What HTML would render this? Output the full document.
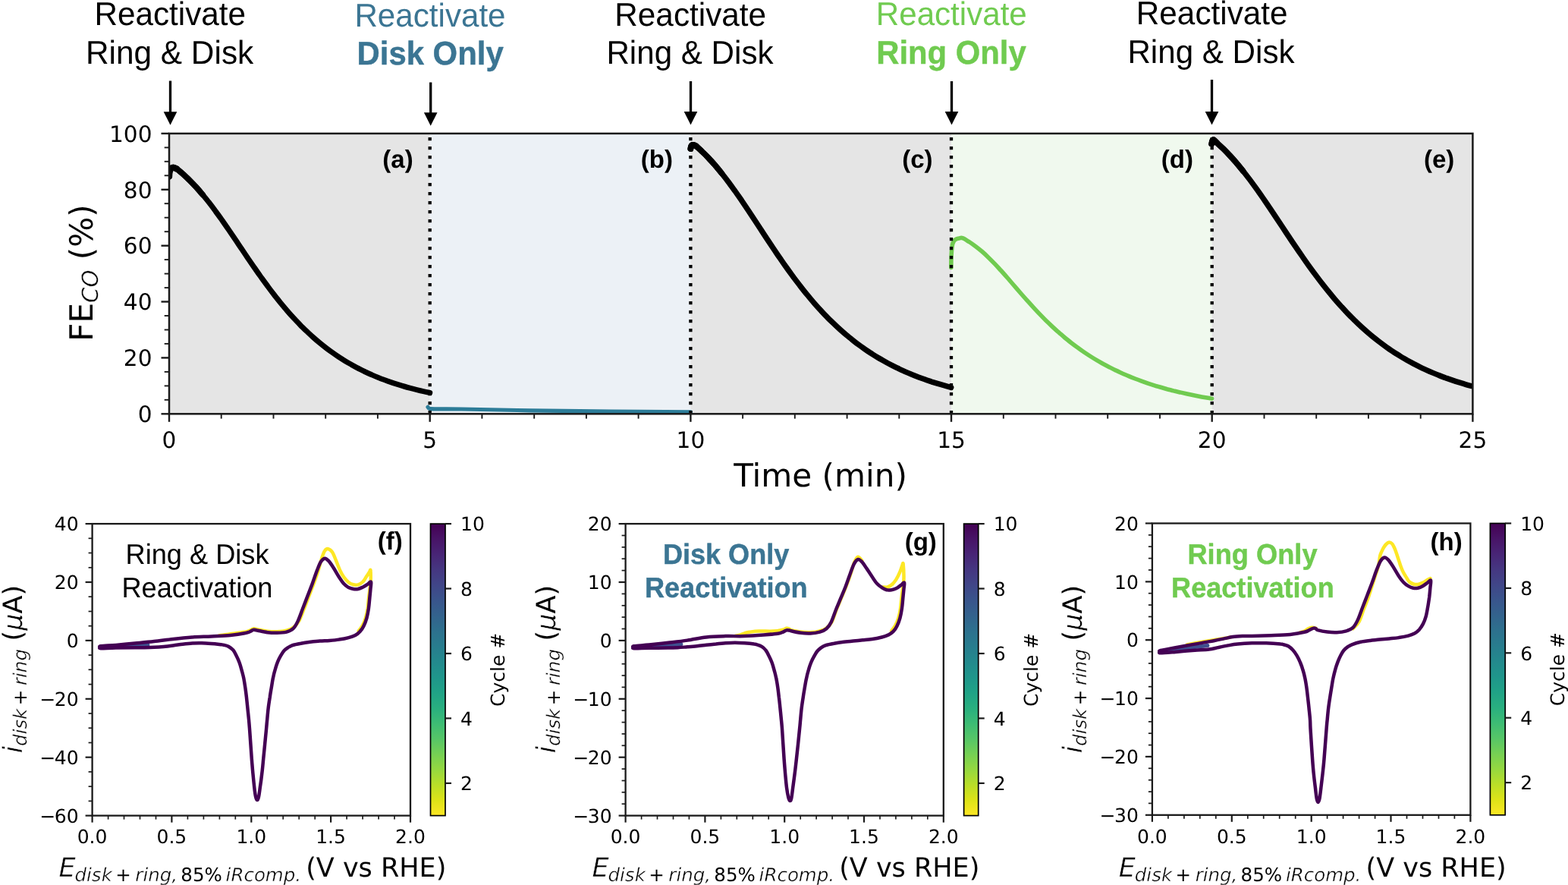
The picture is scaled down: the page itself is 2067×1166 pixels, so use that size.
<!DOCTYPE html>
<html lang="en">
<head>
<meta charset="utf-8">
<title>Reactivation of ring and disk: FE(CO) vs time and cyclic voltammograms</title>
<style>
html,body{margin:0;padding:0;background:#fff;}
body{width:2067px;height:1166px;overflow:hidden;}
svg{display:block;}
text{white-space:pre;text-rendering:geometricPrecision;}
.it{font-style:italic;stroke:#fff;stroke-width:0.45px;stroke-linejoin:round;}
.up{font-style:normal;stroke:none;}
.b{font-weight:bold;stroke-width:0.45px;stroke-linejoin:round;}
</style>
</head>
<body>
<svg width="2067" height="1166" viewBox="0 0 2067 1166">
<defs><filter id="soft" x="0" y="0" width="100%" height="100%" filterUnits="objectBoundingBox" color-interpolation-filters="sRGB"><feGaussianBlur stdDeviation="0.45"/></filter></defs>
<g filter="url(#soft)">
<rect width="2067" height="1166" fill="#fff"/>
<g id="top-plot">
<clipPath id="cliptop"><rect x="223" y="175.9" width="1718.4" height="369.4"/></clipPath>
<rect x="223" y="175.9" width="343.7" height="369.4" fill="#e5e5e5"/>
<rect x="566.7" y="175.9" width="343.7" height="369.4" fill="#ecf1f6"/>
<rect x="910.4" y="175.9" width="343.7" height="369.4" fill="#e5e5e5"/>
<rect x="1254" y="175.9" width="343.7" height="369.4" fill="#f0f9ee"/>
<rect x="1597.7" y="175.9" width="343.7" height="369.4" fill="#e5e5e5"/>
<path d="M564 536.3C564.3 536.7 564.6 537.9 566.1 538.3C567.6 538.7 565.8 538.7 572.9 538.8C580 539 587.8 538.7 608.7 539C629.6 539.4 665.4 540.3 698.2 540.8C731 541.3 770.3 541.7 805.6 542.1C841 542.4 892.9 542.7 910.4 542.8" fill="none" stroke="#2c7c98" stroke-width="5.2" stroke-linejoin="round" stroke-linecap="round" clip-path="url(#cliptop)"/>
<path d="M1253.8 352.5C1253.8 349.9 1253.9 341.8 1254.1 337C1254.3 332.2 1254.7 327.2 1255.2 324C1255.7 320.8 1256.4 319.3 1257.3 317.8C1258.2 316.3 1259.3 315.6 1260.5 315C1261.7 314.4 1263.1 314.1 1264.5 313.9C1265.9 313.7 1266.8 312.9 1269 313.7C1271.2 314.5 1274.6 316.8 1277.4 318.5C1280.2 320.3 1283 322.3 1285.9 324.4C1288.7 326.5 1291.5 328.7 1294.3 331.2C1297.1 333.6 1299.9 336.2 1302.7 338.9C1305.5 341.6 1308.3 344.4 1311.1 347.4C1313.9 350.3 1316.7 353.4 1319.6 356.5C1322.4 359.6 1325.2 362.8 1328 366C1330.8 369.2 1333.6 372.5 1336.4 375.8C1339.2 379 1342 382.3 1344.8 385.5C1347.6 388.7 1350.4 391.9 1353.3 395.1C1356.1 398.2 1358.9 401.4 1361.7 404.4C1364.5 407.5 1367.3 410.5 1370.1 413.4C1372.9 416.3 1375.7 419.2 1378.5 422C1381.3 424.7 1384.2 427.4 1387 430.1C1389.8 432.7 1392.6 435.3 1395.4 437.7C1398.2 440.2 1401 442.6 1403.8 445C1406.6 447.3 1409.4 449.5 1412.2 451.7C1415 453.9 1417.9 456 1420.7 458C1423.5 460.1 1426.3 462.1 1429.1 464C1431.9 465.9 1434.7 467.7 1437.5 469.5C1440.3 471.3 1443.1 473 1445.9 474.6C1448.7 476.3 1451.6 477.9 1454.4 479.5C1457.2 481 1460 482.5 1462.8 483.9C1465.6 485.4 1468.4 486.8 1471.2 488.1C1474 489.5 1476.8 490.7 1479.6 492C1482.4 493.2 1485.3 494.5 1488.1 495.6C1490.9 496.8 1493.7 497.9 1496.5 499C1499.3 500.1 1502.1 501.1 1504.9 502.1C1507.7 503.1 1510.5 504.1 1513.3 505.1C1516.2 506 1519 506.9 1521.8 507.8C1524.6 508.7 1527.4 509.5 1530.2 510.3C1533 511.1 1535.8 511.9 1538.6 512.7C1541.4 513.4 1544.2 514.2 1547 514.9C1549.9 515.6 1552.7 516.3 1555.5 516.9C1558.3 517.6 1561.1 518.2 1563.9 518.8C1566.7 519.4 1569.5 520 1572.3 520.6C1575.1 521.2 1577.9 521.7 1580.7 522.2C1583.6 522.8 1586.4 523.3 1589.2 523.8C1592 524.3 1596.2 525 1597.6 525.2" fill="none" stroke="#70cb50" stroke-width="5.6" stroke-linejoin="round" stroke-linecap="round" clip-path="url(#cliptop)"/>
<line x1="566.7" y1="545.3" x2="566.7" y2="175.9" stroke="#000" stroke-width="4.3" stroke-dasharray="4.4 7.6" stroke-dashoffset="0"/>
<line x1="910.4" y1="545.3" x2="910.4" y2="175.9" stroke="#000" stroke-width="4.3" stroke-dasharray="4.4 7.6" stroke-dashoffset="0"/>
<line x1="1254" y1="545.3" x2="1254" y2="175.9" stroke="#000" stroke-width="4.3" stroke-dasharray="4.4 7.6" stroke-dashoffset="0"/>
<line x1="1597.7" y1="545.3" x2="1597.7" y2="175.9" stroke="#000" stroke-width="4.3" stroke-dasharray="4.4 7.6" stroke-dashoffset="0"/>
<path d="M223 232.5C223.1 231.5 223.1 228.2 223.5 226.5C223.9 224.8 224.5 223.3 225.3 222.3C226.1 221.3 227.2 220.6 228.5 220.6C229.8 220.6 230.8 221 233 222.5C235.2 224 238.7 227.1 241.6 229.6C244.4 232.2 247.3 234.9 250.1 237.7C253 240.6 255.8 243.5 258.7 246.7C261.5 249.8 264.4 253.1 267.2 256.5C270.1 259.9 272.9 263.5 275.8 267.1C278.6 270.8 281.5 274.6 284.3 278.5C287.2 282.3 290 286.3 292.9 290.4C295.7 294.4 298.6 298.6 301.5 302.7C304.3 306.9 307.2 311.1 310 315.3C312.9 319.5 315.7 323.8 318.6 328C321.4 332.2 324.3 336.5 327.1 340.7C330 344.8 332.8 349 335.7 353.1C338.5 357.2 341.4 361.3 344.2 365.3C347.1 369.3 349.9 373.2 352.8 377C355.6 380.9 358.5 384.7 361.3 388.3C364.2 392 367.1 395.6 369.9 399.1C372.8 402.6 375.6 406 378.5 409.3C381.3 412.6 384.2 415.8 387 418.9C389.9 422 392.7 425 395.6 427.9C398.4 430.8 401.3 433.6 404.1 436.3C407 439 409.8 441.7 412.7 444.2C415.5 446.7 418.4 449.2 421.2 451.5C424.1 453.9 426.9 456.1 429.8 458.3C432.6 460.5 435.5 462.6 438.4 464.6C441.2 466.6 444.1 468.6 446.9 470.5C449.8 472.3 452.6 474.1 455.5 475.9C458.3 477.6 461.2 479.2 464 480.8C466.9 482.4 469.7 484 472.6 485.5C475.4 486.9 478.3 488.3 481.1 489.7C484 491.1 486.8 492.4 489.7 493.6C492.5 494.9 495.4 496.1 498.2 497.2C501.1 498.4 504 499.5 506.8 500.5C509.7 501.6 512.5 502.6 515.4 503.6C518.2 504.6 521.1 505.5 523.9 506.4C526.8 507.3 529.6 508.2 532.5 509C535.3 509.9 538.2 510.7 541 511.4C543.9 512.2 546.7 512.9 549.6 513.6C552.4 514.3 555.3 515 558.1 515.6C561 516.3 565.3 517.2 566.7 517.5" fill="none" stroke="#000" stroke-width="7.1" stroke-linejoin="round" stroke-linecap="round" clip-path="url(#cliptop)"/>
<path d="M910.4 196C910.5 195.4 910.8 193.3 911.2 192.5C911.6 191.7 912 191.1 913 191C914 190.9 914.9 190.5 917 192C919.1 193.5 922.8 197 925.6 199.8C928.5 202.5 931.4 205.4 934.3 208.5C937.2 211.5 940 214.7 942.9 218C945.8 221.4 948.7 224.9 951.5 228.5C954.4 232.1 957.3 235.8 960.2 239.7C963.1 243.5 965.9 247.5 968.8 251.5C971.7 255.6 974.6 259.7 977.5 263.9C980.3 268.1 983.2 272.4 986.1 276.8C989 281.1 991.8 285.5 994.7 289.8C997.6 294.2 1000.5 298.6 1003.4 303C1006.2 307.4 1009.1 311.8 1012 316.1C1014.9 320.5 1017.8 324.8 1020.6 329.1C1023.5 333.3 1026.4 337.6 1029.3 341.7C1032.1 345.9 1035 350 1037.9 354C1040.8 358.1 1043.7 362 1046.5 365.9C1049.4 369.7 1052.3 373.5 1055.2 377.2C1058.1 380.9 1060.9 384.5 1063.8 388C1066.7 391.6 1069.6 395 1072.4 398.3C1075.3 401.6 1078.2 404.9 1081.1 408C1084 411.1 1086.8 414.2 1089.7 417.1C1092.6 420.1 1095.5 422.9 1098.4 425.7C1101.2 428.5 1104.1 431.2 1107 433.8C1109.9 436.3 1112.7 438.9 1115.6 441.3C1118.5 443.7 1121.4 446 1124.3 448.3C1127.1 450.6 1130 452.8 1132.9 454.9C1135.8 457 1138.7 459 1141.5 461C1144.4 463 1147.3 464.8 1150.2 466.7C1153 468.5 1155.9 470.3 1158.8 472C1161.7 473.7 1164.6 475.3 1167.4 476.9C1170.3 478.5 1173.2 480 1176.1 481.5C1179 483 1181.8 484.4 1184.7 485.7C1187.6 487.1 1190.5 488.4 1193.3 489.7C1196.2 491 1199.1 492.2 1202 493.4C1204.9 494.5 1207.7 495.7 1210.6 496.8C1213.5 497.9 1216.4 498.9 1219.3 499.9C1222.1 501 1225 501.9 1227.9 502.9C1230.8 503.8 1233.6 504.7 1236.5 505.6C1239.4 506.5 1242.3 507.3 1245.2 508.1C1248 508.9 1252.4 510.1 1253.8 510.5" fill="none" stroke="#000" stroke-width="7.3" stroke-linejoin="round" stroke-linecap="round" clip-path="url(#cliptop)"/>
<path d="M1597.3 189.5C1597.5 188.8 1597.8 186.4 1598.2 185.5C1598.7 184.6 1599 183.9 1600 184.3C1601 184.7 1601.9 186.1 1604 188C1606.1 190 1609.8 193.3 1612.7 196.1C1615.5 198.9 1618.4 201.9 1621.3 205C1624.2 208.1 1627.1 211.4 1630 214.7C1632.8 218.1 1635.7 221.6 1638.6 225.2C1641.5 228.8 1644.4 232.6 1647.3 236.4C1650.1 240.2 1653 244.2 1655.9 248.2C1658.8 252.2 1661.7 256.3 1664.6 260.5C1667.4 264.6 1670.3 268.9 1673.2 273.1C1676.1 277.4 1679 281.7 1681.9 286.1C1684.7 290.4 1687.6 294.7 1690.5 299.1C1693.4 303.4 1696.3 307.8 1699.2 312.1C1702 316.4 1704.9 320.7 1707.8 324.9C1710.7 329.2 1713.6 333.4 1716.5 337.5C1719.4 341.7 1722.2 345.8 1725.1 349.8C1728 353.8 1730.9 357.8 1733.8 361.6C1736.7 365.5 1739.5 369.3 1742.4 373C1745.3 376.7 1748.2 380.4 1751.1 383.9C1754 387.5 1756.8 390.9 1759.7 394.3C1762.6 397.6 1765.5 400.9 1768.4 404.1C1771.3 407.3 1774.1 410.4 1777 413.4C1779.9 416.4 1782.8 419.3 1785.7 422.1C1788.6 424.9 1791.4 427.7 1794.3 430.3C1797.2 433 1800.1 435.5 1803 438C1805.9 440.5 1808.7 442.9 1811.6 445.2C1814.5 447.5 1817.4 449.8 1820.3 451.9C1823.2 454.1 1826 456.2 1828.9 458.2C1831.8 460.2 1834.7 462.2 1837.6 464.1C1840.5 465.9 1843.4 467.8 1846.2 469.5C1849.1 471.3 1852 472.9 1854.9 474.6C1857.8 476.2 1860.7 477.8 1863.5 479.3C1866.4 480.8 1869.3 482.3 1872.2 483.7C1875.1 485.1 1878 486.4 1880.8 487.7C1883.7 489.1 1886.6 490.3 1889.5 491.5C1892.4 492.7 1895.3 493.9 1898.1 495C1901 496.2 1903.9 497.2 1906.8 498.3C1909.7 499.3 1912.6 500.3 1915.4 501.3C1918.3 502.3 1921.2 503.2 1924.1 504.1C1927 505 1929.9 505.9 1932.7 506.7C1935.6 507.6 1940 508.7 1941.4 509.1" fill="none" stroke="#000" stroke-width="7.3" stroke-linejoin="round" stroke-linecap="round" clip-path="url(#cliptop)"/>
<path d="M223 232.5C223.1 231.5 223.1 228.2 223.5 226.5C223.9 224.8 224.5 223.3 225.3 222.3C226.1 221.3 227.2 220.6 228.5 220.6C229.8 220.6 232.2 222.2 233 222.5" fill="none" stroke="#000" stroke-width="8.4" stroke-linejoin="round" stroke-linecap="round" clip-path="url(#cliptop)"/>
<path d="M910.4 196C910.5 195.4 910.8 193.3 911.2 192.5C911.6 191.7 912 191.1 913 191C914 190.9 916.3 191.8 917 192" fill="none" stroke="#000" stroke-width="8.0" stroke-linejoin="round" stroke-linecap="round" clip-path="url(#cliptop)"/>
<path d="M1597.3 189.5C1597.5 188.8 1597.8 186.4 1598.2 185.5C1598.7 184.6 1599 183.9 1600 184.3C1601 184.7 1603.3 187.4 1604 188" fill="none" stroke="#000" stroke-width="8.0" stroke-linejoin="round" stroke-linecap="round" clip-path="url(#cliptop)"/>
<path d="M223 232.5C223.1 231.5 223.1 228.2 223.5 226.5C223.9 224.8 224.5 223.3 225.3 222.3C226.1 221.3 227.2 220.6 228.5 220.6C229.8 220.6 230.8 221 233 222.5C235.2 224 238.7 227.1 241.6 229.6C244.4 232.2 247.3 234.9 250.1 237.7C253 240.6 255.8 243.5 258.7 246.7C261.5 249.8 265.8 254.9 267.2 256.5" fill="none" stroke="#000" stroke-width="7.7" stroke-linejoin="round" stroke-linecap="round" clip-path="url(#cliptop)"/>
<path d="M910.4 196C910.5 195.4 910.8 193.3 911.2 192.5C911.6 191.7 912 191.1 913 191C914 190.9 914.9 190.5 917 192C919.1 193.5 922.8 197 925.6 199.8C928.5 202.5 931.4 205.4 934.3 208.5C937.2 211.5 940 214.7 942.9 218C945.8 221.4 950.1 226.7 951.5 228.5" fill="none" stroke="#000" stroke-width="7.7" stroke-linejoin="round" stroke-linecap="round" clip-path="url(#cliptop)"/>
<path d="M1597.3 189.5C1597.5 188.8 1597.8 186.4 1598.2 185.5C1598.7 184.6 1599 183.9 1600 184.3C1601 184.7 1601.9 186.1 1604 188C1606.1 190 1609.8 193.3 1612.7 196.1C1615.5 198.9 1618.4 201.9 1621.3 205C1624.2 208.1 1627.1 211.4 1630 214.7C1632.8 218.1 1637.2 223.5 1638.6 225.2" fill="none" stroke="#000" stroke-width="7.7" stroke-linejoin="round" stroke-linecap="round" clip-path="url(#cliptop)"/>
<line x1="212.5" y1="545.3" x2="223" y2="545.3" stroke="#1a1a1a" stroke-width="2.4"/>
<line x1="216.7" y1="526.8" x2="223" y2="526.8" stroke="#1a1a1a" stroke-width="1.9"/>
<line x1="216.7" y1="508.4" x2="223" y2="508.4" stroke="#1a1a1a" stroke-width="1.9"/>
<line x1="216.7" y1="489.9" x2="223" y2="489.9" stroke="#1a1a1a" stroke-width="1.9"/>
<line x1="212.5" y1="471.4" x2="223" y2="471.4" stroke="#1a1a1a" stroke-width="2.4"/>
<line x1="216.7" y1="452.9" x2="223" y2="452.9" stroke="#1a1a1a" stroke-width="1.9"/>
<line x1="216.7" y1="434.5" x2="223" y2="434.5" stroke="#1a1a1a" stroke-width="1.9"/>
<line x1="216.7" y1="416" x2="223" y2="416" stroke="#1a1a1a" stroke-width="1.9"/>
<line x1="212.5" y1="397.5" x2="223" y2="397.5" stroke="#1a1a1a" stroke-width="2.4"/>
<line x1="216.7" y1="379.1" x2="223" y2="379.1" stroke="#1a1a1a" stroke-width="1.9"/>
<line x1="216.7" y1="360.6" x2="223" y2="360.6" stroke="#1a1a1a" stroke-width="1.9"/>
<line x1="216.7" y1="342.1" x2="223" y2="342.1" stroke="#1a1a1a" stroke-width="1.9"/>
<line x1="212.5" y1="323.7" x2="223" y2="323.7" stroke="#1a1a1a" stroke-width="2.4"/>
<line x1="216.7" y1="305.2" x2="223" y2="305.2" stroke="#1a1a1a" stroke-width="1.9"/>
<line x1="216.7" y1="286.7" x2="223" y2="286.7" stroke="#1a1a1a" stroke-width="1.9"/>
<line x1="216.7" y1="268.2" x2="223" y2="268.2" stroke="#1a1a1a" stroke-width="1.9"/>
<line x1="212.5" y1="249.8" x2="223" y2="249.8" stroke="#1a1a1a" stroke-width="2.4"/>
<line x1="216.7" y1="231.3" x2="223" y2="231.3" stroke="#1a1a1a" stroke-width="1.9"/>
<line x1="216.7" y1="212.8" x2="223" y2="212.8" stroke="#1a1a1a" stroke-width="1.9"/>
<line x1="216.7" y1="194.4" x2="223" y2="194.4" stroke="#1a1a1a" stroke-width="1.9"/>
<line x1="212.5" y1="175.9" x2="223" y2="175.9" stroke="#1a1a1a" stroke-width="2.4"/>
<line x1="223" y1="545.3" x2="223" y2="555.8" stroke="#1a1a1a" stroke-width="2.4"/>
<line x1="291.7" y1="545.3" x2="291.7" y2="551.6" stroke="#1a1a1a" stroke-width="1.9"/>
<line x1="360.5" y1="545.3" x2="360.5" y2="551.6" stroke="#1a1a1a" stroke-width="1.9"/>
<line x1="429.2" y1="545.3" x2="429.2" y2="551.6" stroke="#1a1a1a" stroke-width="1.9"/>
<line x1="497.9" y1="545.3" x2="497.9" y2="551.6" stroke="#1a1a1a" stroke-width="1.9"/>
<line x1="566.7" y1="545.3" x2="566.7" y2="555.8" stroke="#1a1a1a" stroke-width="2.4"/>
<line x1="635.4" y1="545.3" x2="635.4" y2="551.6" stroke="#1a1a1a" stroke-width="1.9"/>
<line x1="704.2" y1="545.3" x2="704.2" y2="551.6" stroke="#1a1a1a" stroke-width="1.9"/>
<line x1="772.9" y1="545.3" x2="772.9" y2="551.6" stroke="#1a1a1a" stroke-width="1.9"/>
<line x1="841.6" y1="545.3" x2="841.6" y2="551.6" stroke="#1a1a1a" stroke-width="1.9"/>
<line x1="910.4" y1="545.3" x2="910.4" y2="555.8" stroke="#1a1a1a" stroke-width="2.4"/>
<line x1="979.1" y1="545.3" x2="979.1" y2="551.6" stroke="#1a1a1a" stroke-width="1.9"/>
<line x1="1047.8" y1="545.3" x2="1047.8" y2="551.6" stroke="#1a1a1a" stroke-width="1.9"/>
<line x1="1116.6" y1="545.3" x2="1116.6" y2="551.6" stroke="#1a1a1a" stroke-width="1.9"/>
<line x1="1185.3" y1="545.3" x2="1185.3" y2="551.6" stroke="#1a1a1a" stroke-width="1.9"/>
<line x1="1254" y1="545.3" x2="1254" y2="555.8" stroke="#1a1a1a" stroke-width="2.4"/>
<line x1="1322.8" y1="545.3" x2="1322.8" y2="551.6" stroke="#1a1a1a" stroke-width="1.9"/>
<line x1="1391.5" y1="545.3" x2="1391.5" y2="551.6" stroke="#1a1a1a" stroke-width="1.9"/>
<line x1="1460.2" y1="545.3" x2="1460.2" y2="551.6" stroke="#1a1a1a" stroke-width="1.9"/>
<line x1="1529" y1="545.3" x2="1529" y2="551.6" stroke="#1a1a1a" stroke-width="1.9"/>
<line x1="1597.7" y1="545.3" x2="1597.7" y2="555.8" stroke="#1a1a1a" stroke-width="2.4"/>
<line x1="1666.5" y1="545.3" x2="1666.5" y2="551.6" stroke="#1a1a1a" stroke-width="1.9"/>
<line x1="1735.2" y1="545.3" x2="1735.2" y2="551.6" stroke="#1a1a1a" stroke-width="1.9"/>
<line x1="1803.9" y1="545.3" x2="1803.9" y2="551.6" stroke="#1a1a1a" stroke-width="1.9"/>
<line x1="1872.7" y1="545.3" x2="1872.7" y2="551.6" stroke="#1a1a1a" stroke-width="1.9"/>
<line x1="1941.4" y1="545.3" x2="1941.4" y2="555.8" stroke="#1a1a1a" stroke-width="2.4"/>
<rect x="223" y="175.9" width="1718.4" height="369.4" fill="none" stroke="#1a1a1a" stroke-width="2.5"/>
<g font-family="'DejaVu Sans','Liberation Sans',sans-serif" font-size="29.6" fill="#000">
<text x="200.5" y="556" text-anchor="end">0</text>
<text x="200.5" y="482.1" text-anchor="end">20</text>
<text x="200.5" y="408.2" text-anchor="end">40</text>
<text x="200.5" y="334.4" text-anchor="end">60</text>
<text x="200.5" y="260.5" text-anchor="end">80</text>
<text x="200.5" y="186.6" text-anchor="end">100</text>
<text x="223" y="589.6" text-anchor="middle">0</text>
<text x="566.7" y="589.6" text-anchor="middle">5</text>
<text x="910.4" y="589.6" text-anchor="middle">10</text>
<text x="1254" y="589.6" text-anchor="middle">15</text>
<text x="1597.7" y="589.6" text-anchor="middle">20</text>
<text x="1941.4" y="589.6" text-anchor="middle">25</text>
</g>
<text x="1081.5" y="641.2" text-anchor="middle" font-family="'DejaVu Sans','Liberation Sans',sans-serif" font-size="42.1" fill="#000">Time (min)</text>
<text transform="translate(121.6 359.5) rotate(-90)" text-anchor="middle" font-family="'DejaVu Sans','Liberation Sans',sans-serif" font-size="42.1" fill="#000">FE<tspan class="it" font-size="29.2" dy="7.2">CO</tspan><tspan dy="-7.2" dx="0"> (%)</tspan></text>
<g font-family="'Liberation Sans','DejaVu Sans',sans-serif" font-size="33" font-weight="bold" fill="#000" text-anchor="end">
<text x="544.7" y="221">(a)</text>
<text x="887" y="221">(b)</text>
<text x="1229.5" y="221">(c)</text>
<text x="1573" y="221">(d)</text>
<text x="1917.3" y="221">(e)</text>
</g>
</g>
<g id="headers">
<line x1="224.5" y1="106.5" x2="224.5" y2="149.2" stroke="#000" stroke-width="3.3"/>
<path d="M215.7 147.2 L233.3 147.2 L224.5 164.7 Z" fill="#000"/>
<line x1="567.7" y1="108.5" x2="567.7" y2="150.2" stroke="#000" stroke-width="3.3"/>
<path d="M558.9 148.2 L576.5 148.2 L567.7 165.7 Z" fill="#000"/>
<line x1="910.5" y1="107" x2="910.5" y2="149" stroke="#000" stroke-width="3.3"/>
<path d="M901.7 147 L919.3 147 L910.5 164.5 Z" fill="#000"/>
<line x1="1254.5" y1="107" x2="1254.5" y2="149" stroke="#000" stroke-width="3.3"/>
<path d="M1245.7 147 L1263.3 147 L1254.5 164.5 Z" fill="#000"/>
<line x1="1597.5" y1="105" x2="1597.5" y2="149" stroke="#000" stroke-width="3.3"/>
<path d="M1588.7 147 L1606.3 147 L1597.5 164.5 Z" fill="#000"/>
<text x="224.3" y="32.7" text-anchor="middle" font-family="'Liberation Sans','DejaVu Sans',sans-serif" font-size="43.4" fill="#000" textLength="199.6" lengthAdjust="spacingAndGlyphs">Reactivate</text>
<text x="223.6" y="83.5" text-anchor="middle" font-family="'Liberation Sans','DejaVu Sans',sans-serif" font-size="43.4" fill="#000" textLength="221.4" lengthAdjust="spacingAndGlyphs">Ring &amp; Disk</text>
<text x="567" y="34.5" text-anchor="middle" font-family="'Liberation Sans','DejaVu Sans',sans-serif" font-size="43.4" fill="#3b7593" textLength="199.1" lengthAdjust="spacingAndGlyphs">Reactivate</text>
<text x="567.1" y="85.3" text-anchor="middle" font-family="'Liberation Sans','DejaVu Sans',sans-serif" font-size="43.4" fill="#3b7593" class="b" stroke="#3b7593" textLength="193.2" lengthAdjust="spacingAndGlyphs">Disk Only</text>
<text x="910.2" y="33.5" text-anchor="middle" font-family="'Liberation Sans','DejaVu Sans',sans-serif" font-size="43.4" fill="#000" textLength="199.7" lengthAdjust="spacingAndGlyphs">Reactivate</text>
<text x="909.5" y="84.1" text-anchor="middle" font-family="'Liberation Sans','DejaVu Sans',sans-serif" font-size="43.4" fill="#000" textLength="220.1" lengthAdjust="spacingAndGlyphs">Ring &amp; Disk</text>
<text x="1254.3" y="33.3" text-anchor="middle" font-family="'Liberation Sans','DejaVu Sans',sans-serif" font-size="43.4" fill="#70cb50" textLength="199" lengthAdjust="spacingAndGlyphs">Reactivate</text>
<text x="1254" y="83.8" text-anchor="middle" font-family="'Liberation Sans','DejaVu Sans',sans-serif" font-size="43.4" fill="#70cb50" class="b" stroke="#70cb50" textLength="197.5" lengthAdjust="spacingAndGlyphs">Ring Only</text>
<text x="1597.7" y="31.7" text-anchor="middle" font-family="'Liberation Sans','DejaVu Sans',sans-serif" font-size="43.4" fill="#000" textLength="199.7" lengthAdjust="spacingAndGlyphs">Reactivate</text>
<text x="1596.5" y="82.8" text-anchor="middle" font-family="'Liberation Sans','DejaVu Sans',sans-serif" font-size="43.4" fill="#000" textLength="220.1" lengthAdjust="spacingAndGlyphs">Ring &amp; Disk</text>
</g>
<defs><linearGradient id="vir" x1="0" y1="1" x2="0" y2="0">
<stop offset="0%" stop-color="#fde725"/>
<stop offset="5.3%" stop-color="#dde318"/>
<stop offset="10.5%" stop-color="#bade28"/>
<stop offset="15.8%" stop-color="#95d840"/>
<stop offset="21.1%" stop-color="#75d054"/>
<stop offset="26.3%" stop-color="#56c667"/>
<stop offset="31.6%" stop-color="#3dbc74"/>
<stop offset="36.8%" stop-color="#29af7f"/>
<stop offset="42.1%" stop-color="#20a386"/>
<stop offset="47.4%" stop-color="#1f968b"/>
<stop offset="52.6%" stop-color="#238a8d"/>
<stop offset="57.9%" stop-color="#287d8e"/>
<stop offset="63.2%" stop-color="#2d718e"/>
<stop offset="68.4%" stop-color="#33638d"/>
<stop offset="73.7%" stop-color="#39558c"/>
<stop offset="78.9%" stop-color="#404688"/>
<stop offset="84.2%" stop-color="#453781"/>
<stop offset="89.5%" stop-color="#482576"/>
<stop offset="94.7%" stop-color="#481467"/>
<stop offset="100%" stop-color="#440154"/>
</linearGradient></defs>
<g id="panel-f">
<rect x="121.6" y="690.1" width="419.4" height="384.5" fill="#fff"/>
<text x="260" y="742.7" text-anchor="middle" font-family="'Liberation Sans','DejaVu Sans',sans-serif" font-size="37.5" fill="#000" textLength="189" lengthAdjust="spacingAndGlyphs">Ring &amp; Disk</text>
<text x="260" y="786.7" text-anchor="middle" font-family="'Liberation Sans','DejaVu Sans',sans-serif" font-size="37.5" fill="#000" textLength="199" lengthAdjust="spacingAndGlyphs">Reactivation</text>
<path d="M288.6 837.4C291.1 837 298 836.1 303.7 835.3C309.3 834.6 318.4 833.6 322.5 832.8C326.7 832.1 326.9 831.7 328.8 830.9C330.7 830.2 332.4 828.8 333.9 828.4C335.3 828.1 336.6 828.5 337.6 828.7C338.7 828.8 337.5 828.9 340 829.4C342.5 829.9 348.4 831.2 352.6 831.7C356.8 832.2 361 832.4 365.2 832.2C369.4 832 374.2 831.6 377.7 830.7C381.3 829.8 383.8 829 386.5 826.9C389.3 824.8 391.8 822.1 394.1 818.1C396.4 814.1 398.3 808.3 400.4 803C402.5 797.8 404.6 792.1 406.7 786.7C408.8 781.2 410.9 776 413 770.3C415.1 764.7 417.4 758.6 419.2 752.7C421.1 746.8 422.8 739.6 424.3 735.1C425.7 730.6 426.7 727.7 428.1 725.7C429.4 723.7 430.8 722.8 432.5 723.1C434.1 723.5 436.3 724.9 438.1 727.5C439.9 730.2 441.5 734.9 443.1 738.9C444.8 742.9 446.5 747.9 448.2 751.4C449.9 755 451.3 757.6 453.2 760.3C455.1 762.9 457.4 765.5 459.5 767.2C461.6 768.8 463.7 769.8 465.8 770.3C467.9 770.8 470 770.9 472.1 770.3C474.2 769.7 476.5 768.4 478.4 766.5C480.3 764.7 481.9 761.2 483.4 759C484.9 756.8 486.3 754.6 487.2 753.3C488 752.1 488.2 749.7 488.4 751.4C488.7 753.2 488.8 759.8 488.7 764C488.5 768.2 487.9 772.4 487.4 776.6C487 780.8 486.4 785 485.9 789.2C485.5 793.4 485.3 797.6 484.7 801.8C484 806 483 810.6 481.9 814.3C480.7 818.1 479.3 821.6 477.7 824.4C476.2 827.2 473.5 830.2 472.7 831.3" fill="none" stroke="#fde725" stroke-width="4.5" stroke-linejoin="round" stroke-linecap="round"/>
<path d="M133.9 852.7C134.8 852.6 137.6 852.5 139.4 852.4C141.3 852.3 143.1 852.2 145 852.1C146.8 852 148.6 851.9 150.5 851.8C152.3 851.7 154.2 851.6 156 851.5C157.9 851.4 159.7 851.3 161.6 851.2C163.4 851.1 165.3 851 167.1 850.9C169 850.8 170.8 850.7 172.7 850.7C174.5 850.6 176.4 850.5 178.2 850.4C180.1 850.3 181.9 850.2 183.8 850.1C185.6 850 187.5 849.9 189.3 849.8C191.2 849.7 193.9 849.5 194.9 849.5" fill="none" stroke="#3f4f8f" stroke-width="5.0" stroke-linejoin="round" stroke-linecap="round"/>
<path d="M132.1 852.7C132.2 852.5 129.4 851.7 132.9 851.2C136.3 850.7 145.2 850.5 152.7 849.9C160.2 849.3 169.5 848.4 177.9 847.5C186.3 846.7 194.7 846 203.1 845C211.4 844.1 219.8 842.8 228.2 841.9C236.6 840.9 245 840 253.4 839.4C261.8 838.8 270.1 838.8 278.5 838.4C286.9 837.9 296.3 837.5 303.7 836.9C311 836.2 318.4 835.1 322.5 834.3C326.7 833.6 326.9 833.2 328.8 832.5C330.7 831.7 332.4 830.3 333.9 829.9C335.3 829.6 336.6 830.1 337.6 830.2C338.7 830.3 337.5 830.2 340 830.7C342.5 831.2 348.4 832.7 352.6 833.2C356.8 833.7 361 833.9 365.2 833.8C369.4 833.7 374.2 833.5 377.7 832.6C381.3 831.6 384 830.6 386.5 828.2C389.1 825.8 390.7 822.5 392.8 818.1C394.9 813.7 397 807.2 399.1 801.8C401.2 796.3 403.3 790.9 405.4 785.4C407.5 780 409.6 774.7 411.7 769.1C413.8 763.4 416.1 756.3 418 751.4C419.9 746.6 421.3 742.7 423 740.1C424.7 737.5 426.4 735.9 428.1 735.7C429.7 735.5 431.2 736.9 433.1 738.9C435 740.9 437.1 744.1 439.4 747.7C441.7 751.2 444.6 756.7 446.9 760.3C449.2 763.8 451.1 766.8 453.2 769.1C455.3 771.4 457.4 772.9 459.5 774.1C461.6 775.2 463.7 775.7 465.8 776C467.9 776.3 470 776.4 472.1 776C474.2 775.6 476.3 774.5 478.4 773.5C480.5 772.4 482.9 770.8 484.7 769.7C486.4 768.6 488.4 765.6 489.1 766.8C489.7 767.9 488.7 772.9 488.4 776.6C488.1 780.3 487.6 785 487.2 789.2C486.8 793.4 486.5 797.6 485.9 801.8C485.3 806 484.4 810.6 483.4 814.3C482.3 818.1 481.1 821.5 479.6 824.4C478.2 827.3 476.5 829.9 474.6 831.9C472.7 834 470.8 835.6 468.3 837C465.8 838.3 463.1 839.2 459.5 840.1C455.9 841.1 451.1 842 446.9 842.6C442.7 843.3 438.5 843.6 434.3 843.9C430.1 844.2 426 844.2 421.8 844.5C417.6 844.8 413.4 845.3 409.2 845.8C405 846.3 400.6 846.9 396.6 847.7C392.6 848.4 387.9 849.3 385 850.3C382.2 851.3 381.2 852.2 379.4 853.4C377.7 854.6 375.8 855.8 374.3 857.5C372.8 859.2 371.6 861.3 370.2 863.7C368.8 866.1 367.3 869 366.1 871.9C364.9 874.8 364 877.6 363 881.2C361.9 884.8 360.7 889.4 359.9 893.6C359 897.7 358.5 901.8 357.8 905.9C357.1 910 356.4 913.8 355.8 918.3C355.1 922.7 354.3 927.7 353.7 932.7C353.1 937.7 352.6 943.6 352.2 948.1C351.7 952.7 351.9 951.4 351.1 960.1C350.3 968.7 348.2 990.2 347.2 1000C346.3 1009.8 346.1 1012.6 345.3 1018.9C344.6 1025.2 343.6 1032.5 342.8 1037.7C342.1 1043 341.6 1047.6 340.9 1050.3C340.3 1053 339.8 1054.1 339.2 1054.1C338.6 1054.1 337.8 1053 337.2 1050.3C336.5 1047.6 335.9 1043 335.3 1037.7C334.7 1032.5 334 1025.2 333.4 1018.9C332.8 1012.6 332.6 1009.8 331.8 1000C331.1 990.2 329.6 968.7 329 960.1C328.3 951.4 328.4 952.7 328 948.1C327.5 943.6 326.9 937.7 326.4 932.7C325.9 927.7 325.4 922.7 324.9 918.3C324.4 913.8 323.9 910 323.3 905.9C322.7 901.8 322 897.3 321.3 893.6C320.5 889.8 319.6 886.7 318.7 883.3C317.7 879.8 316.8 876.2 315.6 873C314.4 869.7 312.9 866.4 311.5 863.7C310.1 860.9 309.1 858.5 307.4 856.5C305.6 854.5 303.2 853 301.2 851.8C299.1 850.7 296.7 850.2 295 849.8C293.3 849.3 293.8 849.5 291.1 849.2C288.4 848.9 282.7 848.3 278.5 847.9C274.3 847.6 270.1 847.3 265.9 847.2C261.8 847.1 257.6 847.2 253.4 847.4C249.2 847.7 245 848.2 240.8 848.7C236.6 849.2 232.4 849.9 228.2 850.4C224 851 219.8 851.6 215.6 851.9C211.4 852.3 207.2 852.6 203.1 852.8C198.9 853 194.7 853.1 190.5 853.2C186.3 853.3 184.2 853.2 177.9 853.2C171.6 853.2 160.2 853.3 152.7 853.5C145.2 853.6 136.3 854.3 132.9 854.2C129.4 854.1 132.2 853 132.1 852.7" fill="none" stroke="#440154" stroke-width="4.5" stroke-linejoin="round" stroke-linecap="round"/>
<line x1="112.6" y1="1074.6" x2="121.6" y2="1074.6" stroke="#1a1a1a" stroke-width="2.2"/>
<line x1="116.6" y1="1055.4" x2="121.6" y2="1055.4" stroke="#1a1a1a" stroke-width="1.7"/>
<line x1="116.6" y1="1036.2" x2="121.6" y2="1036.2" stroke="#1a1a1a" stroke-width="1.7"/>
<line x1="116.6" y1="1016.9" x2="121.6" y2="1016.9" stroke="#1a1a1a" stroke-width="1.7"/>
<line x1="112.6" y1="997.7" x2="121.6" y2="997.7" stroke="#1a1a1a" stroke-width="2.2"/>
<line x1="116.6" y1="978.5" x2="121.6" y2="978.5" stroke="#1a1a1a" stroke-width="1.7"/>
<line x1="116.6" y1="959.2" x2="121.6" y2="959.2" stroke="#1a1a1a" stroke-width="1.7"/>
<line x1="116.6" y1="940" x2="121.6" y2="940" stroke="#1a1a1a" stroke-width="1.7"/>
<line x1="112.6" y1="920.8" x2="121.6" y2="920.8" stroke="#1a1a1a" stroke-width="2.2"/>
<line x1="116.6" y1="901.6" x2="121.6" y2="901.6" stroke="#1a1a1a" stroke-width="1.7"/>
<line x1="116.6" y1="882.3" x2="121.6" y2="882.3" stroke="#1a1a1a" stroke-width="1.7"/>
<line x1="116.6" y1="863.1" x2="121.6" y2="863.1" stroke="#1a1a1a" stroke-width="1.7"/>
<line x1="112.6" y1="843.9" x2="121.6" y2="843.9" stroke="#1a1a1a" stroke-width="2.2"/>
<line x1="116.6" y1="824.7" x2="121.6" y2="824.7" stroke="#1a1a1a" stroke-width="1.7"/>
<line x1="116.6" y1="805.5" x2="121.6" y2="805.5" stroke="#1a1a1a" stroke-width="1.7"/>
<line x1="116.6" y1="786.2" x2="121.6" y2="786.2" stroke="#1a1a1a" stroke-width="1.7"/>
<line x1="112.6" y1="767" x2="121.6" y2="767" stroke="#1a1a1a" stroke-width="2.2"/>
<line x1="116.6" y1="747.8" x2="121.6" y2="747.8" stroke="#1a1a1a" stroke-width="1.7"/>
<line x1="116.6" y1="728.5" x2="121.6" y2="728.5" stroke="#1a1a1a" stroke-width="1.7"/>
<line x1="116.6" y1="709.3" x2="121.6" y2="709.3" stroke="#1a1a1a" stroke-width="1.7"/>
<line x1="112.6" y1="690.1" x2="121.6" y2="690.1" stroke="#1a1a1a" stroke-width="2.2"/>
<line x1="121.6" y1="1074.6" x2="121.6" y2="1083.6" stroke="#1a1a1a" stroke-width="2.2"/>
<line x1="142.6" y1="1074.6" x2="142.6" y2="1079.6" stroke="#1a1a1a" stroke-width="1.7"/>
<line x1="163.5" y1="1074.6" x2="163.5" y2="1079.6" stroke="#1a1a1a" stroke-width="1.7"/>
<line x1="184.5" y1="1074.6" x2="184.5" y2="1079.6" stroke="#1a1a1a" stroke-width="1.7"/>
<line x1="205.5" y1="1074.6" x2="205.5" y2="1079.6" stroke="#1a1a1a" stroke-width="1.7"/>
<line x1="226.4" y1="1074.6" x2="226.4" y2="1083.6" stroke="#1a1a1a" stroke-width="2.2"/>
<line x1="247.4" y1="1074.6" x2="247.4" y2="1079.6" stroke="#1a1a1a" stroke-width="1.7"/>
<line x1="268.4" y1="1074.6" x2="268.4" y2="1079.6" stroke="#1a1a1a" stroke-width="1.7"/>
<line x1="289.4" y1="1074.6" x2="289.4" y2="1079.6" stroke="#1a1a1a" stroke-width="1.7"/>
<line x1="310.3" y1="1074.6" x2="310.3" y2="1079.6" stroke="#1a1a1a" stroke-width="1.7"/>
<line x1="331.3" y1="1074.6" x2="331.3" y2="1083.6" stroke="#1a1a1a" stroke-width="2.2"/>
<line x1="352.3" y1="1074.6" x2="352.3" y2="1079.6" stroke="#1a1a1a" stroke-width="1.7"/>
<line x1="373.2" y1="1074.6" x2="373.2" y2="1079.6" stroke="#1a1a1a" stroke-width="1.7"/>
<line x1="394.2" y1="1074.6" x2="394.2" y2="1079.6" stroke="#1a1a1a" stroke-width="1.7"/>
<line x1="415.2" y1="1074.6" x2="415.2" y2="1079.6" stroke="#1a1a1a" stroke-width="1.7"/>
<line x1="436.1" y1="1074.6" x2="436.1" y2="1083.6" stroke="#1a1a1a" stroke-width="2.2"/>
<line x1="457.1" y1="1074.6" x2="457.1" y2="1079.6" stroke="#1a1a1a" stroke-width="1.7"/>
<line x1="478.1" y1="1074.6" x2="478.1" y2="1079.6" stroke="#1a1a1a" stroke-width="1.7"/>
<line x1="499.1" y1="1074.6" x2="499.1" y2="1079.6" stroke="#1a1a1a" stroke-width="1.7"/>
<line x1="520" y1="1074.6" x2="520" y2="1079.6" stroke="#1a1a1a" stroke-width="1.7"/>
<line x1="541" y1="1074.6" x2="541" y2="1083.6" stroke="#1a1a1a" stroke-width="2.2"/>
<rect x="121.6" y="690.1" width="419.4" height="384.5" fill="none" stroke="#1a1a1a" stroke-width="2.3"/>
<g font-family="'DejaVu Sans','Liberation Sans',sans-serif" font-size="25" fill="#000">
<text x="103.6" y="1083.8" text-anchor="end">−<tspan dx="-1.4">60</tspan></text>
<text x="103.6" y="1006.9" text-anchor="end">−<tspan dx="-1.4">40</tspan></text>
<text x="103.6" y="930" text-anchor="end">−<tspan dx="-1.4">20</tspan></text>
<text x="103.6" y="853.1" text-anchor="end">0</text>
<text x="103.6" y="776.2" text-anchor="end">20</text>
<text x="103.6" y="699.3" text-anchor="end">40</text>
<text x="121.6" y="1111.3" text-anchor="middle">0.0</text>
<text x="226.4" y="1111.3" text-anchor="middle">0.5</text>
<text x="331.3" y="1111.3" text-anchor="middle">1.0</text>
<text x="436.1" y="1111.3" text-anchor="middle">1.5</text>
<text x="541" y="1111.3" text-anchor="middle">2.0</text>
</g>
<text x="530.8" y="724.4" text-anchor="end" font-family="'Liberation Sans','DejaVu Sans',sans-serif" font-size="33" font-weight="bold" fill="#000">(f)</text>
<text x="77.4" y="1154.6" font-family="'DejaVu Sans','Liberation Sans',sans-serif" font-size="35" fill="#000"><tspan class="it">E</tspan><tspan class="it" font-size="24.5" dy="6.1" dx="-1">disk</tspan><tspan font-style="normal" font-size="24.5" dx="4.4">+</tspan><tspan class="it" font-size="24.5" dx="5.6">ring,</tspan><tspan font-size="24.5" dx="4.2">85%</tspan><tspan class="it" font-size="24.5" dx="4.8">iRcomp.</tspan><tspan dy="-6.1" dx="6.1">(V vs RHE)</tspan></text>
<text transform="translate(28.8 992.5) rotate(-90)" font-family="'DejaVu Sans','Liberation Sans',sans-serif" font-size="35" fill="#000"><tspan class="it">i</tspan><tspan class="it" font-size="24.5" dy="6.1" dx="-0.1">disk</tspan><tspan font-size="24.5" dx="4.4">+</tspan><tspan class="it" font-size="24.5" dx="5.6">ring</tspan><tspan dy="-6.1" dx="10.6">(</tspan><tspan class="it">μ</tspan><tspan>A)</tspan></text>
<rect x="567.5" y="690.1" width="19.5" height="384.5" fill="url(#vir)" stroke="#000" stroke-width="1.7"/>
<g font-family="'DejaVu Sans','Liberation Sans',sans-serif" font-size="25" fill="#000">
<line x1="587" y1="1031.9" x2="595" y2="1031.9" stroke="#1a1a1a" stroke-width="2.2"/>
<text x="607" y="1041.1">2</text>
<line x1="587" y1="946.4" x2="595" y2="946.4" stroke="#1a1a1a" stroke-width="2.2"/>
<text x="607" y="955.6">4</text>
<line x1="587" y1="861" x2="595" y2="861" stroke="#1a1a1a" stroke-width="2.2"/>
<text x="607" y="870.2">6</text>
<line x1="587" y1="775.5" x2="595" y2="775.5" stroke="#1a1a1a" stroke-width="2.2"/>
<text x="607" y="784.7">8</text>
<line x1="587" y1="690.1" x2="595" y2="690.1" stroke="#1a1a1a" stroke-width="2.2"/>
<text x="607" y="699.3">10</text>
</g>
<text transform="translate(665 882.3) rotate(-90)" text-anchor="middle" font-family="'DejaVu Sans','Liberation Sans',sans-serif" font-size="25" fill="#000">Cycle #</text>
</g>
<g id="panel-g">
<rect x="824.6" y="690.1" width="419.2" height="384.5" fill="#fff"/>
<text x="957.1" y="742.7" text-anchor="middle" font-family="'Liberation Sans','DejaVu Sans',sans-serif" font-size="37.5" fill="#3b7593" class="b" stroke="#3b7593" textLength="166.4" lengthAdjust="spacingAndGlyphs">Disk Only</text>
<text x="957.3" y="786.7" text-anchor="middle" font-family="'Liberation Sans','DejaVu Sans',sans-serif" font-size="37.5" fill="#3b7593" class="b" stroke="#3b7593" textLength="214.8" lengthAdjust="spacingAndGlyphs">Reactivation</text>
<path d="M968.9 837.9C970 837.7 973.1 837.2 975.2 836.6C977.3 836 979.4 835 981.5 834.3C983.6 833.7 984.7 833.3 987.8 832.8C991 832.4 995.1 831.8 1000.4 831.6C1005.6 831.4 1014 831.9 1019.3 831.6C1024.5 831.3 1028.9 830.3 1031.8 829.7C1034.8 829.1 1035.4 828 1036.9 827.8C1038.3 827.6 1039.4 828.2 1040.4 828.6C1041.4 828.9 1040.5 829.4 1043 830.1C1045.5 830.7 1051.4 832.1 1055.6 832.6C1059.8 833.1 1064 833.4 1068.2 833.2C1072.4 833 1077.2 832.3 1080.7 831.3C1084.3 830.4 1086.9 829.5 1089.5 827.5C1092.2 825.6 1094.3 823.5 1096.5 819.4C1098.7 815.3 1100.7 808.3 1102.7 803C1104.8 797.8 1106.9 793 1109 787.9C1111.1 782.9 1113.2 778.3 1115.3 772.8C1117.4 767.4 1119.8 760.6 1121.6 755.2C1123.4 749.9 1124.7 744.3 1126.3 740.8C1127.8 737.2 1129.4 734.2 1131.1 733.8C1132.7 733.5 1135.5 738 1136.3 738.9" fill="none" stroke="#fde725" stroke-width="4.5" stroke-linejoin="round" stroke-linecap="round"/>
<path d="M1163.8 773.5C1164.8 773.5 1167.9 774.1 1170 773.5C1172.1 772.8 1174.4 771.4 1176.3 769.7C1178.2 768 1179.7 766.1 1181.4 763.4C1183 760.7 1185.1 756.4 1186.4 753.3C1187.7 750.3 1188.6 746.8 1189.3 745.2C1190 743.5 1190.3 740.3 1190.7 743.4C1191 746.5 1191.6 758.5 1191.4 764C1191.3 769.6 1190.4 772.4 1189.9 776.6C1189.4 780.8 1188.8 785 1188.3 789.2C1187.8 793.4 1187.7 797.6 1187 801.8C1186.4 806 1185.4 810.6 1184.3 814.3C1183.1 818.1 1181.6 821.6 1180.1 824.4C1178.6 827.2 1175.9 830.2 1175.1 831.3" fill="none" stroke="#fde725" stroke-width="4.5" stroke-linejoin="round" stroke-linecap="round"/>
<path d="M836.9 852.7C837.8 852.6 840.6 852.5 842.4 852.4C844.3 852.3 846.1 852.2 848 852.1C849.8 852 851.6 851.9 853.5 851.8C855.3 851.7 857.2 851.5 859 851.4C860.9 851.3 862.7 851.2 864.6 851.1C866.4 851 868.3 850.9 870.1 850.8C872 850.7 873.8 850.6 875.7 850.5C877.5 850.4 879.4 850.3 881.2 850.2C883.1 850 884.9 849.9 886.8 849.7C888.6 849.6 890.5 849.5 892.3 849.3C894.2 849.1 896.9 848.9 897.9 848.8" fill="none" stroke="#3f4f8f" stroke-width="5.0" stroke-linejoin="round" stroke-linecap="round"/>
<path d="M835.1 852.7C835.2 852.5 832.4 851.7 835.9 851.2C839.3 850.7 848.2 850.3 855.7 849.6C863.2 848.8 872.5 847.8 880.9 846.8C889.3 845.8 897.7 844.9 906.1 843.6C914.4 842.4 922.8 840.3 931.2 839.4C939.6 838.4 948 838.3 956.4 838.1C964.8 837.9 973.1 838.4 981.5 838.1C989.9 837.9 999.3 837.2 1006.7 836.6C1014 836 1021.4 835.3 1025.5 834.7C1029.7 834.1 1029.9 833.6 1031.8 832.8C1033.7 832.1 1035.4 830.7 1036.9 830.3C1038.3 829.9 1039.6 830.4 1040.6 830.6C1041.7 830.7 1040.5 830.8 1043 831.3C1045.5 831.9 1051.4 833.3 1055.6 833.8C1059.8 834.4 1064 834.7 1068.2 834.5C1072.4 834.3 1077.2 833.6 1080.7 832.6C1084.3 831.5 1087 830.4 1089.5 828.2C1092.1 826 1093.7 823.6 1095.8 819.4C1097.9 815.2 1100 808.3 1102.1 803C1104.2 797.8 1106.3 793 1108.4 787.9C1110.5 782.9 1112.6 778.3 1114.7 772.8C1116.8 767.4 1119.1 760.3 1121 755.2C1122.9 750.2 1124.3 745.7 1126 742.6C1127.7 739.6 1129.4 737.4 1131.1 737C1132.7 736.6 1134.2 738.1 1136.1 740.1C1138 742.1 1140.1 745.6 1142.4 748.9C1144.7 752.3 1147.6 756.9 1149.9 760.3C1152.2 763.6 1154.1 766.8 1156.2 769.1C1158.3 771.4 1160.4 772.7 1162.5 774.1C1164.6 775.5 1166.7 776.7 1168.8 777.2C1170.9 777.8 1173 777.5 1175.1 777.2C1177.2 776.9 1179.3 776.4 1181.4 775.3C1183.5 774.3 1185.9 772.2 1187.7 770.9C1189.4 769.7 1191.4 766.9 1192.1 767.8C1192.7 768.7 1191.7 773 1191.4 776.6C1191.1 780.2 1190.6 785 1190.2 789.2C1189.8 793.4 1189.5 797.6 1188.9 801.8C1188.3 806 1187.4 810.6 1186.4 814.3C1185.3 818.1 1184.1 821.5 1182.6 824.4C1181.2 827.3 1179.5 830 1177.6 831.9C1175.7 833.9 1173.8 835.1 1171.3 836.4C1168.8 837.6 1166.1 838.6 1162.5 839.5C1158.9 840.4 1154.1 841.4 1149.9 842C1145.7 842.6 1141.5 842.9 1137.3 843.3C1133.1 843.7 1129 844.1 1124.8 844.5C1120.6 844.9 1116.4 845.3 1112.2 845.8C1108 846.3 1103.6 846.9 1099.6 847.7C1095.6 848.4 1090.9 849.3 1088 850.3C1085.2 851.3 1084.2 852.1 1082.4 853.4C1080.7 854.7 1078.8 856.1 1077.3 858C1075.8 859.9 1074.6 862.2 1073.2 864.7C1071.8 867.2 1070.3 870 1069.1 873C1067.9 875.9 1067 878.6 1066 882.2C1064.9 885.8 1063.7 890.6 1062.9 894.6C1062 898.5 1061.5 902 1060.8 905.9C1060.1 909.9 1059.4 913.8 1058.8 918.3C1058.1 922.7 1057.3 927.7 1056.7 932.7C1056.1 937.7 1055.6 943.6 1055.2 948.1C1054.7 952.7 1055 951.4 1054.1 960.1C1053.3 968.7 1051 990.2 1049.9 1000C1048.8 1009.8 1048.5 1012.6 1047.7 1018.9C1046.9 1025.2 1045.9 1032.3 1045.2 1037.7C1044.5 1043.2 1043.9 1048.7 1043.3 1051.6C1042.7 1054.5 1042.1 1055.2 1041.4 1055C1040.7 1054.8 1040 1053.2 1039.2 1050.3C1038.5 1047.4 1037.7 1043 1037 1037.7C1036.3 1032.5 1035.7 1025.2 1035.1 1018.9C1034.6 1012.6 1034.3 1009.8 1033.6 1000C1032.9 990.2 1031.6 968.7 1031 960.1C1030.3 951.4 1030.4 952.7 1029.9 948.1C1029.5 943.6 1028.9 937.7 1028.4 932.7C1027.9 927.7 1027.4 922.7 1026.8 918.3C1026.3 913.8 1025.9 910 1025.3 905.9C1024.7 901.8 1024 897.3 1023.2 893.6C1022.5 889.8 1021.6 886.7 1020.7 883.3C1019.7 879.8 1018.8 876.2 1017.6 873C1016.4 869.7 1014.8 866.4 1013.4 863.7C1012.1 860.9 1010.9 858.5 1009.3 856.5C1007.8 854.5 1006.1 853 1004.2 851.8C1002.3 850.6 999.7 849.8 998 849.3C996.3 848.7 996.8 848.9 994.1 848.6C991.4 848.2 985.7 847.6 981.5 847.3C977.3 847 973.1 846.7 968.9 846.7C964.8 846.7 960.6 847 956.4 847.3C952.2 847.6 948 848.1 943.8 848.6C939.6 849 935.4 849.4 931.2 849.8C927 850.3 922.8 850.9 918.6 851.3C914.4 851.7 910.2 852 906.1 852.3C901.9 852.6 897.7 853 893.5 853.2C889.3 853.4 887.2 853.5 880.9 853.6C874.6 853.7 863.2 853.6 855.7 853.7C848.2 853.8 839.3 854.4 835.9 854.2C832.4 854 835.2 853 835.1 852.7" fill="none" stroke="#440154" stroke-width="4.5" stroke-linejoin="round" stroke-linecap="round"/>
<line x1="815.6" y1="1074.6" x2="824.6" y2="1074.6" stroke="#1a1a1a" stroke-width="2.2"/>
<line x1="819.6" y1="1059.2" x2="824.6" y2="1059.2" stroke="#1a1a1a" stroke-width="1.7"/>
<line x1="819.6" y1="1043.8" x2="824.6" y2="1043.8" stroke="#1a1a1a" stroke-width="1.7"/>
<line x1="819.6" y1="1028.5" x2="824.6" y2="1028.5" stroke="#1a1a1a" stroke-width="1.7"/>
<line x1="819.6" y1="1013.1" x2="824.6" y2="1013.1" stroke="#1a1a1a" stroke-width="1.7"/>
<line x1="815.6" y1="997.7" x2="824.6" y2="997.7" stroke="#1a1a1a" stroke-width="2.2"/>
<line x1="819.6" y1="982.3" x2="824.6" y2="982.3" stroke="#1a1a1a" stroke-width="1.7"/>
<line x1="819.6" y1="966.9" x2="824.6" y2="966.9" stroke="#1a1a1a" stroke-width="1.7"/>
<line x1="819.6" y1="951.6" x2="824.6" y2="951.6" stroke="#1a1a1a" stroke-width="1.7"/>
<line x1="819.6" y1="936.2" x2="824.6" y2="936.2" stroke="#1a1a1a" stroke-width="1.7"/>
<line x1="815.6" y1="920.8" x2="824.6" y2="920.8" stroke="#1a1a1a" stroke-width="2.2"/>
<line x1="819.6" y1="905.4" x2="824.6" y2="905.4" stroke="#1a1a1a" stroke-width="1.7"/>
<line x1="819.6" y1="890" x2="824.6" y2="890" stroke="#1a1a1a" stroke-width="1.7"/>
<line x1="819.6" y1="874.7" x2="824.6" y2="874.7" stroke="#1a1a1a" stroke-width="1.7"/>
<line x1="819.6" y1="859.3" x2="824.6" y2="859.3" stroke="#1a1a1a" stroke-width="1.7"/>
<line x1="815.6" y1="843.9" x2="824.6" y2="843.9" stroke="#1a1a1a" stroke-width="2.2"/>
<line x1="819.6" y1="828.5" x2="824.6" y2="828.5" stroke="#1a1a1a" stroke-width="1.7"/>
<line x1="819.6" y1="813.1" x2="824.6" y2="813.1" stroke="#1a1a1a" stroke-width="1.7"/>
<line x1="819.6" y1="797.8" x2="824.6" y2="797.8" stroke="#1a1a1a" stroke-width="1.7"/>
<line x1="819.6" y1="782.4" x2="824.6" y2="782.4" stroke="#1a1a1a" stroke-width="1.7"/>
<line x1="815.6" y1="767" x2="824.6" y2="767" stroke="#1a1a1a" stroke-width="2.2"/>
<line x1="819.6" y1="751.6" x2="824.6" y2="751.6" stroke="#1a1a1a" stroke-width="1.7"/>
<line x1="819.6" y1="736.2" x2="824.6" y2="736.2" stroke="#1a1a1a" stroke-width="1.7"/>
<line x1="819.6" y1="720.9" x2="824.6" y2="720.9" stroke="#1a1a1a" stroke-width="1.7"/>
<line x1="819.6" y1="705.5" x2="824.6" y2="705.5" stroke="#1a1a1a" stroke-width="1.7"/>
<line x1="815.6" y1="690.1" x2="824.6" y2="690.1" stroke="#1a1a1a" stroke-width="2.2"/>
<line x1="824.6" y1="1074.6" x2="824.6" y2="1083.6" stroke="#1a1a1a" stroke-width="2.2"/>
<line x1="845.6" y1="1074.6" x2="845.6" y2="1079.6" stroke="#1a1a1a" stroke-width="1.7"/>
<line x1="866.5" y1="1074.6" x2="866.5" y2="1079.6" stroke="#1a1a1a" stroke-width="1.7"/>
<line x1="887.5" y1="1074.6" x2="887.5" y2="1079.6" stroke="#1a1a1a" stroke-width="1.7"/>
<line x1="908.4" y1="1074.6" x2="908.4" y2="1079.6" stroke="#1a1a1a" stroke-width="1.7"/>
<line x1="929.4" y1="1074.6" x2="929.4" y2="1083.6" stroke="#1a1a1a" stroke-width="2.2"/>
<line x1="950.4" y1="1074.6" x2="950.4" y2="1079.6" stroke="#1a1a1a" stroke-width="1.7"/>
<line x1="971.3" y1="1074.6" x2="971.3" y2="1079.6" stroke="#1a1a1a" stroke-width="1.7"/>
<line x1="992.3" y1="1074.6" x2="992.3" y2="1079.6" stroke="#1a1a1a" stroke-width="1.7"/>
<line x1="1013.2" y1="1074.6" x2="1013.2" y2="1079.6" stroke="#1a1a1a" stroke-width="1.7"/>
<line x1="1034.2" y1="1074.6" x2="1034.2" y2="1083.6" stroke="#1a1a1a" stroke-width="2.2"/>
<line x1="1055.2" y1="1074.6" x2="1055.2" y2="1079.6" stroke="#1a1a1a" stroke-width="1.7"/>
<line x1="1076.1" y1="1074.6" x2="1076.1" y2="1079.6" stroke="#1a1a1a" stroke-width="1.7"/>
<line x1="1097.1" y1="1074.6" x2="1097.1" y2="1079.6" stroke="#1a1a1a" stroke-width="1.7"/>
<line x1="1118" y1="1074.6" x2="1118" y2="1079.6" stroke="#1a1a1a" stroke-width="1.7"/>
<line x1="1139" y1="1074.6" x2="1139" y2="1083.6" stroke="#1a1a1a" stroke-width="2.2"/>
<line x1="1160" y1="1074.6" x2="1160" y2="1079.6" stroke="#1a1a1a" stroke-width="1.7"/>
<line x1="1180.9" y1="1074.6" x2="1180.9" y2="1079.6" stroke="#1a1a1a" stroke-width="1.7"/>
<line x1="1201.9" y1="1074.6" x2="1201.9" y2="1079.6" stroke="#1a1a1a" stroke-width="1.7"/>
<line x1="1222.8" y1="1074.6" x2="1222.8" y2="1079.6" stroke="#1a1a1a" stroke-width="1.7"/>
<line x1="1243.8" y1="1074.6" x2="1243.8" y2="1083.6" stroke="#1a1a1a" stroke-width="2.2"/>
<rect x="824.6" y="690.1" width="419.2" height="384.5" fill="none" stroke="#1a1a1a" stroke-width="2.3"/>
<g font-family="'DejaVu Sans','Liberation Sans',sans-serif" font-size="25" fill="#000">
<text x="806.6" y="1083.8" text-anchor="end">−<tspan dx="-1.4">30</tspan></text>
<text x="806.6" y="1006.9" text-anchor="end">−<tspan dx="-1.4">20</tspan></text>
<text x="806.6" y="930" text-anchor="end">−<tspan dx="-1.4">10</tspan></text>
<text x="806.6" y="853.1" text-anchor="end">0</text>
<text x="806.6" y="776.2" text-anchor="end">10</text>
<text x="806.6" y="699.3" text-anchor="end">20</text>
<text x="824.6" y="1111.3" text-anchor="middle">0.0</text>
<text x="929.4" y="1111.3" text-anchor="middle">0.5</text>
<text x="1034.2" y="1111.3" text-anchor="middle">1.0</text>
<text x="1139" y="1111.3" text-anchor="middle">1.5</text>
<text x="1243.8" y="1111.3" text-anchor="middle">2.0</text>
</g>
<text x="1234.8" y="725.1" text-anchor="end" font-family="'Liberation Sans','DejaVu Sans',sans-serif" font-size="33" font-weight="bold" fill="#000">(g)</text>
<text x="780.4" y="1154.6" font-family="'DejaVu Sans','Liberation Sans',sans-serif" font-size="35" fill="#000"><tspan class="it">E</tspan><tspan class="it" font-size="24.5" dy="6.1" dx="-1">disk</tspan><tspan font-style="normal" font-size="24.5" dx="4.4">+</tspan><tspan class="it" font-size="24.5" dx="5.6">ring,</tspan><tspan font-size="24.5" dx="4.2">85%</tspan><tspan class="it" font-size="24.5" dx="4.8">iRcomp.</tspan><tspan dy="-6.1" dx="6.1">(V vs RHE)</tspan></text>
<text transform="translate(731.8 992.5) rotate(-90)" font-family="'DejaVu Sans','Liberation Sans',sans-serif" font-size="35" fill="#000"><tspan class="it">i</tspan><tspan class="it" font-size="24.5" dy="6.1" dx="-0.1">disk</tspan><tspan font-size="24.5" dx="4.4">+</tspan><tspan class="it" font-size="24.5" dx="5.6">ring</tspan><tspan dy="-6.1" dx="10.6">(</tspan><tspan class="it">μ</tspan><tspan>A)</tspan></text>
<rect x="1270.6" y="690.1" width="19.1" height="384.5" fill="url(#vir)" stroke="#000" stroke-width="1.7"/>
<g font-family="'DejaVu Sans','Liberation Sans',sans-serif" font-size="25" fill="#000">
<line x1="1289.7" y1="1031.9" x2="1297.7" y2="1031.9" stroke="#1a1a1a" stroke-width="2.2"/>
<text x="1309.7" y="1041.1">2</text>
<line x1="1289.7" y1="946.4" x2="1297.7" y2="946.4" stroke="#1a1a1a" stroke-width="2.2"/>
<text x="1309.7" y="955.6">4</text>
<line x1="1289.7" y1="861" x2="1297.7" y2="861" stroke="#1a1a1a" stroke-width="2.2"/>
<text x="1309.7" y="870.2">6</text>
<line x1="1289.7" y1="775.5" x2="1297.7" y2="775.5" stroke="#1a1a1a" stroke-width="2.2"/>
<text x="1309.7" y="784.7">8</text>
<line x1="1289.7" y1="690.1" x2="1297.7" y2="690.1" stroke="#1a1a1a" stroke-width="2.2"/>
<text x="1309.7" y="699.3">10</text>
</g>
<text transform="translate(1367.7 882.3) rotate(-90)" text-anchor="middle" font-family="'DejaVu Sans','Liberation Sans',sans-serif" font-size="25" fill="#000">Cycle #</text>
</g>
<g id="panel-h">
<rect x="1518.9" y="689.5" width="419.5" height="384.3" fill="#fff"/>
<text x="1651" y="742.7" text-anchor="middle" font-family="'Liberation Sans','DejaVu Sans',sans-serif" font-size="37.5" fill="#70cb50" class="b" stroke="#70cb50" textLength="171.1" lengthAdjust="spacingAndGlyphs">Ring Only</text>
<text x="1651.4" y="787" text-anchor="middle" font-family="'Liberation Sans','DejaVu Sans',sans-serif" font-size="37.5" fill="#70cb50" class="b" stroke="#70cb50" textLength="214.6" lengthAdjust="spacingAndGlyphs">Reactivation</text>
<path d="M1564.8 849.4C1566.5 849.1 1569 848.5 1574.9 847.4C1580.8 846.4 1593.8 844.2 1600.1 843.1C1606.3 842.1 1608.9 841.8 1612.6 841.1C1616.4 840.5 1621 839.7 1622.7 839.4" fill="none" stroke="#fde725" stroke-width="4.5" stroke-linejoin="round" stroke-linecap="round"/>
<path d="M1713.3 833.5C1714.3 833.1 1717.7 832.4 1719.5 831.6C1721.4 830.7 1722.9 829.2 1724.6 828.4C1726.3 827.6 1727.9 826.9 1729.6 826.8C1731.3 826.7 1733.8 827.6 1734.6 827.8" fill="none" stroke="#fde725" stroke-width="4.5" stroke-linejoin="round" stroke-linecap="round"/>
<path d="M1783.5 828.2C1784.8 826.7 1789 823.6 1791.3 819.4C1793.7 815.2 1795.5 808.5 1797.6 803C1799.7 797.6 1801.5 793.6 1803.9 786.7C1806.3 779.8 1810.2 766.9 1811.9 761.7C1813.6 756.5 1813.3 757.3 1814 755.3C1814.7 753.3 1815.4 751.7 1816 749.5C1816.6 747.3 1817.2 744.9 1817.8 742C1818.3 739.1 1818.7 734.5 1819.3 731.9C1819.9 729.3 1820.6 728.4 1821.4 726.6C1822.2 724.8 1823.1 722.9 1824.1 721.3C1825.1 719.7 1826.1 718.1 1827.3 717C1828.5 715.9 1829.9 714.7 1831.2 714.6C1832.5 714.5 1834.1 715.4 1835.2 716.5C1836.3 717.6 1837.1 719.6 1837.9 721.3C1838.7 723 1839.3 724.6 1840 726.6C1840.7 728.6 1841.5 730.9 1842.2 733C1842.9 735.1 1843.6 737.3 1844.3 739.4C1845 741.5 1845.7 743.8 1846.4 745.8C1847.1 747.8 1847.7 749.3 1848.5 751.1C1849.3 752.9 1850.3 754.8 1851.2 756.4C1852.1 758 1852.8 759 1853.9 760.7C1855 762.4 1856.1 765 1857.8 766.5C1859.4 768 1861.9 769.2 1864 769.7C1866.1 770.2 1868.2 770.1 1870.3 769.7C1872.4 769.3 1874.7 768.1 1876.6 767.2C1878.5 766.2 1880.2 764.9 1881.7 764C1883.1 763.2 1884.8 762.5 1885.4 762.1" fill="none" stroke="#fde725" stroke-width="4.5" stroke-linejoin="round" stroke-linecap="round"/>
<path d="M1530.9 858.5C1531.8 858.4 1534.6 858 1536.4 857.8C1538.3 857.5 1540.1 857.3 1542 857C1543.8 856.8 1545.6 856.6 1547.5 856.3C1549.3 856.1 1551.2 855.8 1553 855.6C1554.9 855.3 1556.7 855.1 1558.6 854.8C1560.4 854.6 1562.3 854.3 1564.1 854.1C1566 853.8 1567.8 853.6 1569.7 853.3C1571.5 853.1 1573.4 852.8 1575.2 852.6C1577.1 852.4 1578.9 852.2 1580.8 851.9C1582.6 851.7 1584.5 851.5 1586.3 851.3C1588.2 851 1590.9 850.7 1591.9 850.6" fill="none" stroke="#3f4f8f" stroke-width="5.0" stroke-linejoin="round" stroke-linecap="round"/>
<path d="M1529.1 858.6C1529.2 858.3 1526.4 857.9 1529.9 857C1533.3 856.1 1542.2 854.6 1549.7 853.2C1557.2 851.8 1566.5 850.1 1574.9 848.6C1583.3 847 1593.8 845.3 1600.1 844.2C1606.3 843 1608.4 842.5 1612.6 841.6C1616.8 840.8 1621 839.7 1625.2 839.1C1629.4 838.5 1633.6 838.3 1637.8 838.1C1642 837.9 1644.1 838 1650.4 837.9C1656.7 837.7 1667.1 837.5 1675.5 837.2C1683.9 836.9 1693.3 836.7 1700.7 836C1708 835.2 1715.4 833.8 1719.5 832.8C1723.7 831.9 1723.9 831.2 1725.8 830.3C1727.7 829.5 1729.4 828.2 1730.9 827.8C1732.3 827.4 1733.6 827.7 1734.6 828.1C1735.7 828.4 1734.5 829.3 1737 830.1C1739.5 830.8 1745.4 832.1 1749.6 832.6C1753.8 833.1 1758 833.4 1762.2 833.2C1766.4 833 1771.2 832.4 1774.7 831.3C1778.3 830.3 1781 829.3 1783.5 826.9C1786.1 824.5 1787.7 821.3 1789.8 816.9C1791.9 812.5 1794 806 1796.1 800.5C1798.2 795.1 1800.3 789.6 1802.4 784.2C1804.5 778.7 1806.6 773.5 1808.7 767.8C1810.8 762.1 1813.1 755 1815 750.2C1816.9 745.4 1818.3 741.5 1820 738.9C1821.7 736.2 1823.4 734.7 1825.1 734.5C1826.7 734.3 1828.2 735.6 1830.1 737.6C1832 739.6 1834.1 742.9 1836.4 746.4C1838.7 750 1841.6 755.5 1843.9 759C1846.2 762.5 1848.1 765 1850.2 767.2C1852.3 769.4 1854.4 770.9 1856.5 772.2C1858.6 773.5 1860.7 774.3 1862.8 774.7C1864.9 775.1 1867 775.1 1869.1 774.7C1871.2 774.3 1873.3 773.4 1875.4 772.2C1877.5 771 1879.9 769.1 1881.7 767.8C1883.4 766.5 1885.4 763.6 1886.1 764.7C1886.7 765.7 1885.7 770.4 1885.4 774.1C1885.1 777.8 1884.7 782.5 1884.2 786.7C1883.6 790.9 1883 795.1 1882.3 799.2C1881.5 803.4 1880.8 808.1 1879.8 811.8C1878.7 815.6 1877.5 819 1876 821.9C1874.5 824.8 1872.8 827.3 1871 829.4C1869.1 831.5 1867.1 833.1 1864.7 834.5C1862.3 835.8 1860 836.7 1856.5 837.6C1853 838.6 1848.1 839.5 1843.9 840.1C1839.7 840.8 1835.5 841 1831.3 841.4C1827.1 841.8 1823 842.2 1818.8 842.6C1814.6 843.1 1810.4 843.4 1806.2 843.9C1802 844.4 1797.6 844.9 1793.6 845.8C1789.6 846.7 1784.9 848.2 1782 849.3C1779.2 850.4 1778.2 851.1 1776.4 852.4C1774.7 853.6 1772.8 855.1 1771.3 857C1769.8 858.9 1768.5 861.2 1767.2 863.7C1765.9 866.2 1764.7 869 1763.6 871.9C1762.5 874.8 1761.5 877.6 1760.5 881.2C1759.5 884.8 1758.3 889.4 1757.4 893.6C1756.5 897.7 1756 901.8 1755.3 905.9C1754.7 910 1754 913.8 1753.3 918.3C1752.6 922.7 1751.8 927.7 1751.2 932.7C1750.6 937.7 1750.1 943.6 1749.7 948.1C1749.2 952.7 1749.3 951.4 1748.6 960.1C1747.9 968.7 1746.3 990.2 1745.5 1000C1744.7 1009.8 1744.3 1012.6 1743.6 1018.9C1742.9 1025.2 1742.1 1032.2 1741.4 1037.7C1740.7 1043.3 1740.1 1049 1739.5 1052.2C1738.9 1055.4 1738.3 1056.9 1737.6 1056.9C1737 1056.9 1736.4 1055.4 1735.7 1052.2C1735.1 1049 1734.5 1043.3 1733.9 1037.7C1733.2 1032.2 1732.3 1025.2 1731.7 1018.9C1731 1012.6 1730.8 1009.8 1730.1 1000C1729.4 990.2 1728 968.7 1727.5 960.1C1727 951.4 1727.4 952.7 1727 948.1C1726.7 943.6 1726 937.7 1725.5 932.7C1725 927.7 1724.4 922.7 1723.9 918.3C1723.4 913.8 1723 910 1722.4 905.9C1721.8 901.8 1721.1 897.3 1720.3 893.6C1719.5 889.8 1718.8 886.7 1717.7 883.3C1716.7 879.8 1715.5 876.2 1714.1 873C1712.8 869.7 1711.1 866.4 1709.5 863.7C1707.9 860.9 1706.2 858.5 1704.4 856.5C1702.5 854.4 1700.2 852.5 1698.2 851.3C1696.1 850.1 1693.7 849.7 1692 849.3C1690.3 848.8 1691.9 848.9 1688.1 848.6C1684.3 848.2 1675.5 847.5 1669.2 847.3C1662.9 847.1 1656.7 847.1 1650.4 847.3C1644.1 847.5 1636.7 848 1631.5 848.6C1626.3 849.1 1623.1 849.7 1618.9 850.4C1614.7 851.2 1610.5 852.1 1606.3 853C1602.1 853.8 1599 854.8 1593.8 855.5C1588.5 856.1 1582.2 856.2 1574.9 856.7C1567.6 857.3 1557.2 858.3 1549.7 858.9C1542.2 859.5 1533.3 860.3 1529.9 860.3C1526.4 860.2 1529.2 858.9 1529.1 858.6" fill="none" stroke="#440154" stroke-width="4.5" stroke-linejoin="round" stroke-linecap="round"/>
<line x1="1509.9" y1="1073.8" x2="1518.9" y2="1073.8" stroke="#1a1a1a" stroke-width="2.2"/>
<line x1="1513.9" y1="1058.4" x2="1518.9" y2="1058.4" stroke="#1a1a1a" stroke-width="1.7"/>
<line x1="1513.9" y1="1043.1" x2="1518.9" y2="1043.1" stroke="#1a1a1a" stroke-width="1.7"/>
<line x1="1513.9" y1="1027.7" x2="1518.9" y2="1027.7" stroke="#1a1a1a" stroke-width="1.7"/>
<line x1="1513.9" y1="1012.3" x2="1518.9" y2="1012.3" stroke="#1a1a1a" stroke-width="1.7"/>
<line x1="1509.9" y1="996.9" x2="1518.9" y2="996.9" stroke="#1a1a1a" stroke-width="2.2"/>
<line x1="1513.9" y1="981.6" x2="1518.9" y2="981.6" stroke="#1a1a1a" stroke-width="1.7"/>
<line x1="1513.9" y1="966.2" x2="1518.9" y2="966.2" stroke="#1a1a1a" stroke-width="1.7"/>
<line x1="1513.9" y1="950.8" x2="1518.9" y2="950.8" stroke="#1a1a1a" stroke-width="1.7"/>
<line x1="1513.9" y1="935.5" x2="1518.9" y2="935.5" stroke="#1a1a1a" stroke-width="1.7"/>
<line x1="1509.9" y1="920.1" x2="1518.9" y2="920.1" stroke="#1a1a1a" stroke-width="2.2"/>
<line x1="1513.9" y1="904.7" x2="1518.9" y2="904.7" stroke="#1a1a1a" stroke-width="1.7"/>
<line x1="1513.9" y1="889.3" x2="1518.9" y2="889.3" stroke="#1a1a1a" stroke-width="1.7"/>
<line x1="1513.9" y1="874" x2="1518.9" y2="874" stroke="#1a1a1a" stroke-width="1.7"/>
<line x1="1513.9" y1="858.6" x2="1518.9" y2="858.6" stroke="#1a1a1a" stroke-width="1.7"/>
<line x1="1509.9" y1="843.2" x2="1518.9" y2="843.2" stroke="#1a1a1a" stroke-width="2.2"/>
<line x1="1513.9" y1="827.8" x2="1518.9" y2="827.8" stroke="#1a1a1a" stroke-width="1.7"/>
<line x1="1513.9" y1="812.5" x2="1518.9" y2="812.5" stroke="#1a1a1a" stroke-width="1.7"/>
<line x1="1513.9" y1="797.1" x2="1518.9" y2="797.1" stroke="#1a1a1a" stroke-width="1.7"/>
<line x1="1513.9" y1="781.7" x2="1518.9" y2="781.7" stroke="#1a1a1a" stroke-width="1.7"/>
<line x1="1509.9" y1="766.4" x2="1518.9" y2="766.4" stroke="#1a1a1a" stroke-width="2.2"/>
<line x1="1513.9" y1="751" x2="1518.9" y2="751" stroke="#1a1a1a" stroke-width="1.7"/>
<line x1="1513.9" y1="735.6" x2="1518.9" y2="735.6" stroke="#1a1a1a" stroke-width="1.7"/>
<line x1="1513.9" y1="720.2" x2="1518.9" y2="720.2" stroke="#1a1a1a" stroke-width="1.7"/>
<line x1="1513.9" y1="704.9" x2="1518.9" y2="704.9" stroke="#1a1a1a" stroke-width="1.7"/>
<line x1="1509.9" y1="689.5" x2="1518.9" y2="689.5" stroke="#1a1a1a" stroke-width="2.2"/>
<line x1="1518.9" y1="1073.8" x2="1518.9" y2="1082.8" stroke="#1a1a1a" stroke-width="2.2"/>
<line x1="1539.9" y1="1073.8" x2="1539.9" y2="1078.8" stroke="#1a1a1a" stroke-width="1.7"/>
<line x1="1560.9" y1="1073.8" x2="1560.9" y2="1078.8" stroke="#1a1a1a" stroke-width="1.7"/>
<line x1="1581.8" y1="1073.8" x2="1581.8" y2="1078.8" stroke="#1a1a1a" stroke-width="1.7"/>
<line x1="1602.8" y1="1073.8" x2="1602.8" y2="1078.8" stroke="#1a1a1a" stroke-width="1.7"/>
<line x1="1623.8" y1="1073.8" x2="1623.8" y2="1082.8" stroke="#1a1a1a" stroke-width="2.2"/>
<line x1="1644.8" y1="1073.8" x2="1644.8" y2="1078.8" stroke="#1a1a1a" stroke-width="1.7"/>
<line x1="1665.7" y1="1073.8" x2="1665.7" y2="1078.8" stroke="#1a1a1a" stroke-width="1.7"/>
<line x1="1686.7" y1="1073.8" x2="1686.7" y2="1078.8" stroke="#1a1a1a" stroke-width="1.7"/>
<line x1="1707.7" y1="1073.8" x2="1707.7" y2="1078.8" stroke="#1a1a1a" stroke-width="1.7"/>
<line x1="1728.7" y1="1073.8" x2="1728.7" y2="1082.8" stroke="#1a1a1a" stroke-width="2.2"/>
<line x1="1749.6" y1="1073.8" x2="1749.6" y2="1078.8" stroke="#1a1a1a" stroke-width="1.7"/>
<line x1="1770.6" y1="1073.8" x2="1770.6" y2="1078.8" stroke="#1a1a1a" stroke-width="1.7"/>
<line x1="1791.6" y1="1073.8" x2="1791.6" y2="1078.8" stroke="#1a1a1a" stroke-width="1.7"/>
<line x1="1812.6" y1="1073.8" x2="1812.6" y2="1078.8" stroke="#1a1a1a" stroke-width="1.7"/>
<line x1="1833.5" y1="1073.8" x2="1833.5" y2="1082.8" stroke="#1a1a1a" stroke-width="2.2"/>
<line x1="1854.5" y1="1073.8" x2="1854.5" y2="1078.8" stroke="#1a1a1a" stroke-width="1.7"/>
<line x1="1875.5" y1="1073.8" x2="1875.5" y2="1078.8" stroke="#1a1a1a" stroke-width="1.7"/>
<line x1="1896.5" y1="1073.8" x2="1896.5" y2="1078.8" stroke="#1a1a1a" stroke-width="1.7"/>
<line x1="1917.4" y1="1073.8" x2="1917.4" y2="1078.8" stroke="#1a1a1a" stroke-width="1.7"/>
<line x1="1938.4" y1="1073.8" x2="1938.4" y2="1082.8" stroke="#1a1a1a" stroke-width="2.2"/>
<rect x="1518.9" y="689.5" width="419.5" height="384.3" fill="none" stroke="#1a1a1a" stroke-width="2.3"/>
<g font-family="'DejaVu Sans','Liberation Sans',sans-serif" font-size="25" fill="#000">
<text x="1500.9" y="1083" text-anchor="end">−<tspan dx="-1.4">30</tspan></text>
<text x="1500.9" y="1006.1" text-anchor="end">−<tspan dx="-1.4">20</tspan></text>
<text x="1500.9" y="929.3" text-anchor="end">−<tspan dx="-1.4">10</tspan></text>
<text x="1500.9" y="852.4" text-anchor="end">0</text>
<text x="1500.9" y="775.6" text-anchor="end">10</text>
<text x="1500.9" y="698.7" text-anchor="end">20</text>
<text x="1518.9" y="1111.3" text-anchor="middle">0.0</text>
<text x="1623.8" y="1111.3" text-anchor="middle">0.5</text>
<text x="1728.7" y="1111.3" text-anchor="middle">1.0</text>
<text x="1833.5" y="1111.3" text-anchor="middle">1.5</text>
<text x="1938.4" y="1111.3" text-anchor="middle">2.0</text>
</g>
<text x="1927.7" y="725.1" text-anchor="end" font-family="'Liberation Sans','DejaVu Sans',sans-serif" font-size="33" font-weight="bold" fill="#000">(h)</text>
<text x="1474.7" y="1154.6" font-family="'DejaVu Sans','Liberation Sans',sans-serif" font-size="35" fill="#000"><tspan class="it">E</tspan><tspan class="it" font-size="24.5" dy="6.1" dx="-1">disk</tspan><tspan font-style="normal" font-size="24.5" dx="4.4">+</tspan><tspan class="it" font-size="24.5" dx="5.6">ring,</tspan><tspan font-size="24.5" dx="4.2">85%</tspan><tspan class="it" font-size="24.5" dx="4.8">iRcomp.</tspan><tspan dy="-6.1" dx="6.1">(V vs RHE)</tspan></text>
<text transform="translate(1426.1 992.5) rotate(-90)" font-family="'DejaVu Sans','Liberation Sans',sans-serif" font-size="35" fill="#000"><tspan class="it">i</tspan><tspan class="it" font-size="24.5" dy="6.1" dx="-0.1">disk</tspan><tspan font-size="24.5" dx="4.4">+</tspan><tspan class="it" font-size="24.5" dx="5.6">ring</tspan><tspan dy="-6.1" dx="10.6">(</tspan><tspan class="it">μ</tspan><tspan>A)</tspan></text>
<rect x="1964.4" y="689.5" width="19.8" height="384.3" fill="url(#vir)" stroke="#000" stroke-width="1.7"/>
<g font-family="'DejaVu Sans','Liberation Sans',sans-serif" font-size="25" fill="#000">
<line x1="1984.2" y1="1031.1" x2="1992.2" y2="1031.1" stroke="#1a1a1a" stroke-width="2.2"/>
<text x="2004.2" y="1040.3">2</text>
<line x1="1984.2" y1="945.7" x2="1992.2" y2="945.7" stroke="#1a1a1a" stroke-width="2.2"/>
<text x="2004.2" y="954.9">4</text>
<line x1="1984.2" y1="860.3" x2="1992.2" y2="860.3" stroke="#1a1a1a" stroke-width="2.2"/>
<text x="2004.2" y="869.5">6</text>
<line x1="1984.2" y1="774.9" x2="1992.2" y2="774.9" stroke="#1a1a1a" stroke-width="2.2"/>
<text x="2004.2" y="784.1">8</text>
<line x1="1984.2" y1="689.5" x2="1992.2" y2="689.5" stroke="#1a1a1a" stroke-width="2.2"/>
<text x="2004.2" y="698.7">10</text>
</g>
<text transform="translate(2062.2 881.6) rotate(-90)" text-anchor="middle" font-family="'DejaVu Sans','Liberation Sans',sans-serif" font-size="25" fill="#000">Cycle #</text>
</g>
</g>
</svg>
</body>
</html>
